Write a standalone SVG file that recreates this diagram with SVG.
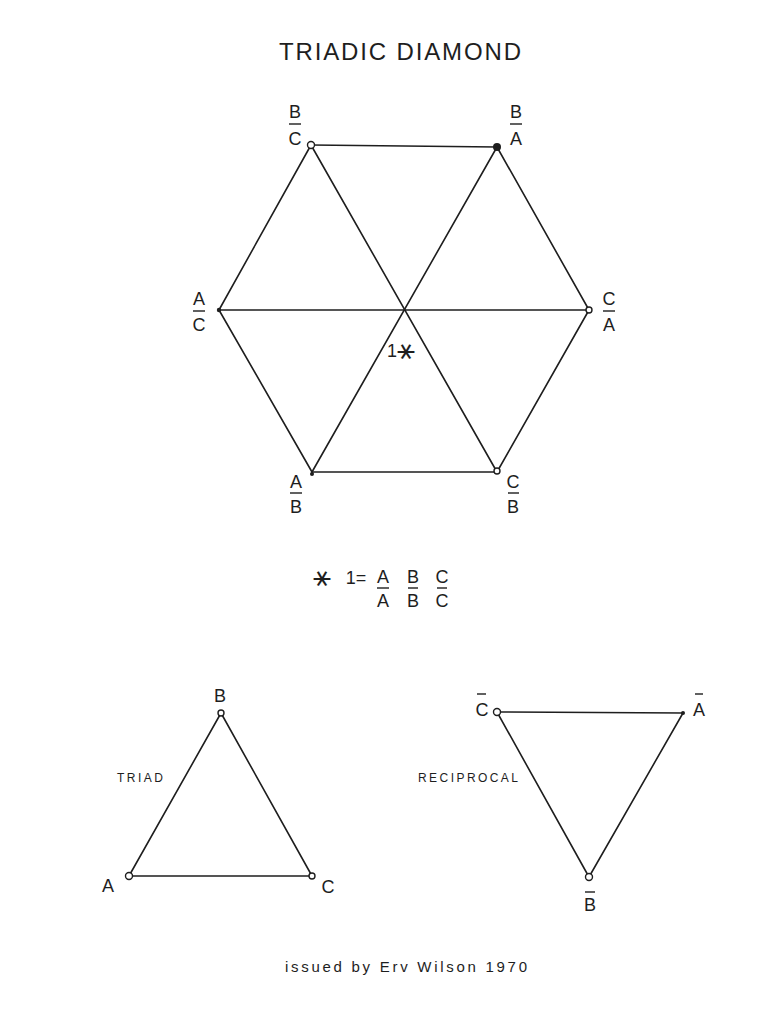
<svg xmlns="http://www.w3.org/2000/svg" width="768" height="1024" viewBox="0 0 768 1024">
<style>
  .bg { fill: #ffffff; }
  .edge { stroke: #1e1e1e; stroke-width: 1.6; fill: none; stroke-linecap: round; }
  .bar { stroke: #1e1e1e; stroke-width: 1.4; }
  .lbl { font-family: "Liberation Sans", "DejaVu Sans", sans-serif; font-size: 18px; fill: #1e1e1e; text-anchor: middle; }
  .star { font-family: "DejaVu Sans", sans-serif; font-size: 30px; fill: #1e1e1e; text-anchor: middle; }
  .small { font-family: "Liberation Sans", "DejaVu Sans", sans-serif; font-size: 12px; fill: #1e1e1e; }
  .open { fill: #ffffff; stroke: #1e1e1e; stroke-width: 1.4; }
  .dot { fill: #1e1e1e; }
</style>
<rect class="bg" x="0" y="0" width="768" height="1024"/>

<text id="title" x="279" y="60" font-family="Liberation Sans, DejaVu Sans, sans-serif" font-size="24" fill="#1e1e1e" textLength="242" lengthAdjust="spacing">TRIADIC  DIAMOND</text>

<g id="connectors">
  <!-- hexagon perimeter -->
  <line class="edge" x1="311" y1="145" x2="497" y2="147"/>
  <line class="edge" x1="497" y1="147" x2="589" y2="310"/>
  <line class="edge" x1="589" y1="310" x2="497" y2="472"/>
  <line class="edge" x1="497" y1="472" x2="312" y2="472"/>
  <line class="edge" x1="312" y1="472" x2="219" y2="310"/>
  <line class="edge" x1="219" y1="310" x2="311" y2="145"/>
  <!-- diagonals -->
  <line class="edge" x1="219" y1="310" x2="589" y2="310"/>
  <line class="edge" x1="311" y1="145" x2="497" y2="472"/>
  <line class="edge" x1="497" y1="147" x2="312" y2="472"/>
  <!-- triad -->
  <line class="edge" x1="221" y1="713" x2="129" y2="876"/>
  <line class="edge" x1="221" y1="713" x2="312" y2="876"/>
  <line class="edge" x1="129" y1="876" x2="312" y2="876"/>
  <!-- reciprocal -->
  <line class="edge" x1="497" y1="712" x2="683" y2="713"/>
  <line class="edge" x1="497" y1="712" x2="589" y2="877"/>
  <line class="edge" x1="683" y1="713" x2="589" y2="877"/>
</g>

<g id="node-BC">
  <circle class="open" cx="311" cy="145" r="3.5"/>
  <text class="lbl" x="295" y="118">B</text>
  <line class="bar" x1="289" y1="124" x2="301" y2="124"/>
  <text class="lbl" x="295" y="145">C</text>
</g>
<g id="node-BA">
  <circle class="dot" cx="497" cy="147" r="4"/>
  <text class="lbl" x="516" y="118">B</text>
  <line class="bar" x1="510" y1="124" x2="522" y2="124"/>
  <text class="lbl" x="516" y="145">A</text>
</g>
<g id="node-AC">
  <circle class="dot" cx="219" cy="310" r="2.2"/>
  <text class="lbl" x="199" y="305">A</text>
  <line class="bar" x1="193" y1="311" x2="205" y2="311"/>
  <text class="lbl" x="199" y="331">C</text>
</g>
<g id="node-CA">
  <circle class="open" cx="589" cy="310" r="3"/>
  <text class="lbl" x="609" y="305">C</text>
  <line class="bar" x1="603" y1="311" x2="615" y2="311"/>
  <text class="lbl" x="609" y="331">A</text>
</g>
<g id="node-AB">
  <circle class="dot" cx="312" cy="474" r="2"/>
  <text class="lbl" x="296" y="488">A</text>
  <line class="bar" x1="290" y1="493" x2="302" y2="493"/>
  <text class="lbl" x="296" y="513">B</text>
</g>
<g id="node-CB">
  <circle class="open" cx="497" cy="471" r="3"/>
  <text class="lbl" x="513" y="488">C</text>
  <line class="bar" x1="508" y1="493" x2="519" y2="493"/>
  <text class="lbl" x="513" y="513">B</text>
</g>
<g id="node-center">
  <text class="lbl" x="392" y="357">1</text>
  <text class="star" x="406" y="359">⚹</text>
</g>

<g id="formula">
  <text class="star" x="322" y="586">⚹</text>
  <text class="lbl" x="356" y="584">1=</text>
  <text class="lbl" x="383" y="583">A</text>
  <line class="bar" x1="377" y1="588" x2="389" y2="588"/>
  <text class="lbl" x="383" y="607">A</text>
  <text class="lbl" x="413" y="583">B</text>
  <line class="bar" x1="408" y1="588" x2="418" y2="588"/>
  <text class="lbl" x="413" y="607">B</text>
  <text class="lbl" x="442" y="583">C</text>
  <line class="bar" x1="437" y1="588" x2="447" y2="588"/>
  <text class="lbl" x="442" y="607">C</text>
</g>

<g id="triad">
  <text class="small" x="117" y="782" textLength="46" lengthAdjust="spacing">TRIAD</text>
  <g id="node-tB">
    <circle class="open" cx="221" cy="713" r="3"/>
    <text class="lbl" x="220" y="702">B</text>
  </g>
  <g id="node-tA">
    <circle class="open" cx="129" cy="876" r="3.5"/>
    <text class="lbl" x="108" y="892">A</text>
  </g>
  <g id="node-tC">
    <circle class="open" cx="312" cy="876" r="3"/>
    <text class="lbl" x="328" y="893">C</text>
  </g>
</g>

<g id="reciprocal">
  <text class="small" x="418" y="782" textLength="100" lengthAdjust="spacing">RECIPROCAL</text>
  <g id="node-rC">
    <circle class="open" cx="497" cy="712" r="3.5"/>
    <line class="bar" x1="477" y1="694" x2="486" y2="694"/>
    <text class="lbl" x="482" y="716">C</text>
  </g>
  <g id="node-rA">
    <circle class="dot" cx="683" cy="713" r="2"/>
    <line class="bar" x1="695" y1="694" x2="703" y2="694"/>
    <text class="lbl" x="699" y="716">A</text>
  </g>
  <g id="node-rB">
    <circle class="open" cx="589" cy="877" r="3.5"/>
    <line class="bar" x1="585" y1="892" x2="595" y2="892"/>
    <text class="lbl" x="590" y="911">B</text>
  </g>
</g>

<text id="credit" x="285" y="972" font-family="Liberation Sans, DejaVu Sans, sans-serif" font-size="15" fill="#1e1e1e" textLength="242" lengthAdjust="spacing">issued by Erv Wilson 1970</text>
</svg>
